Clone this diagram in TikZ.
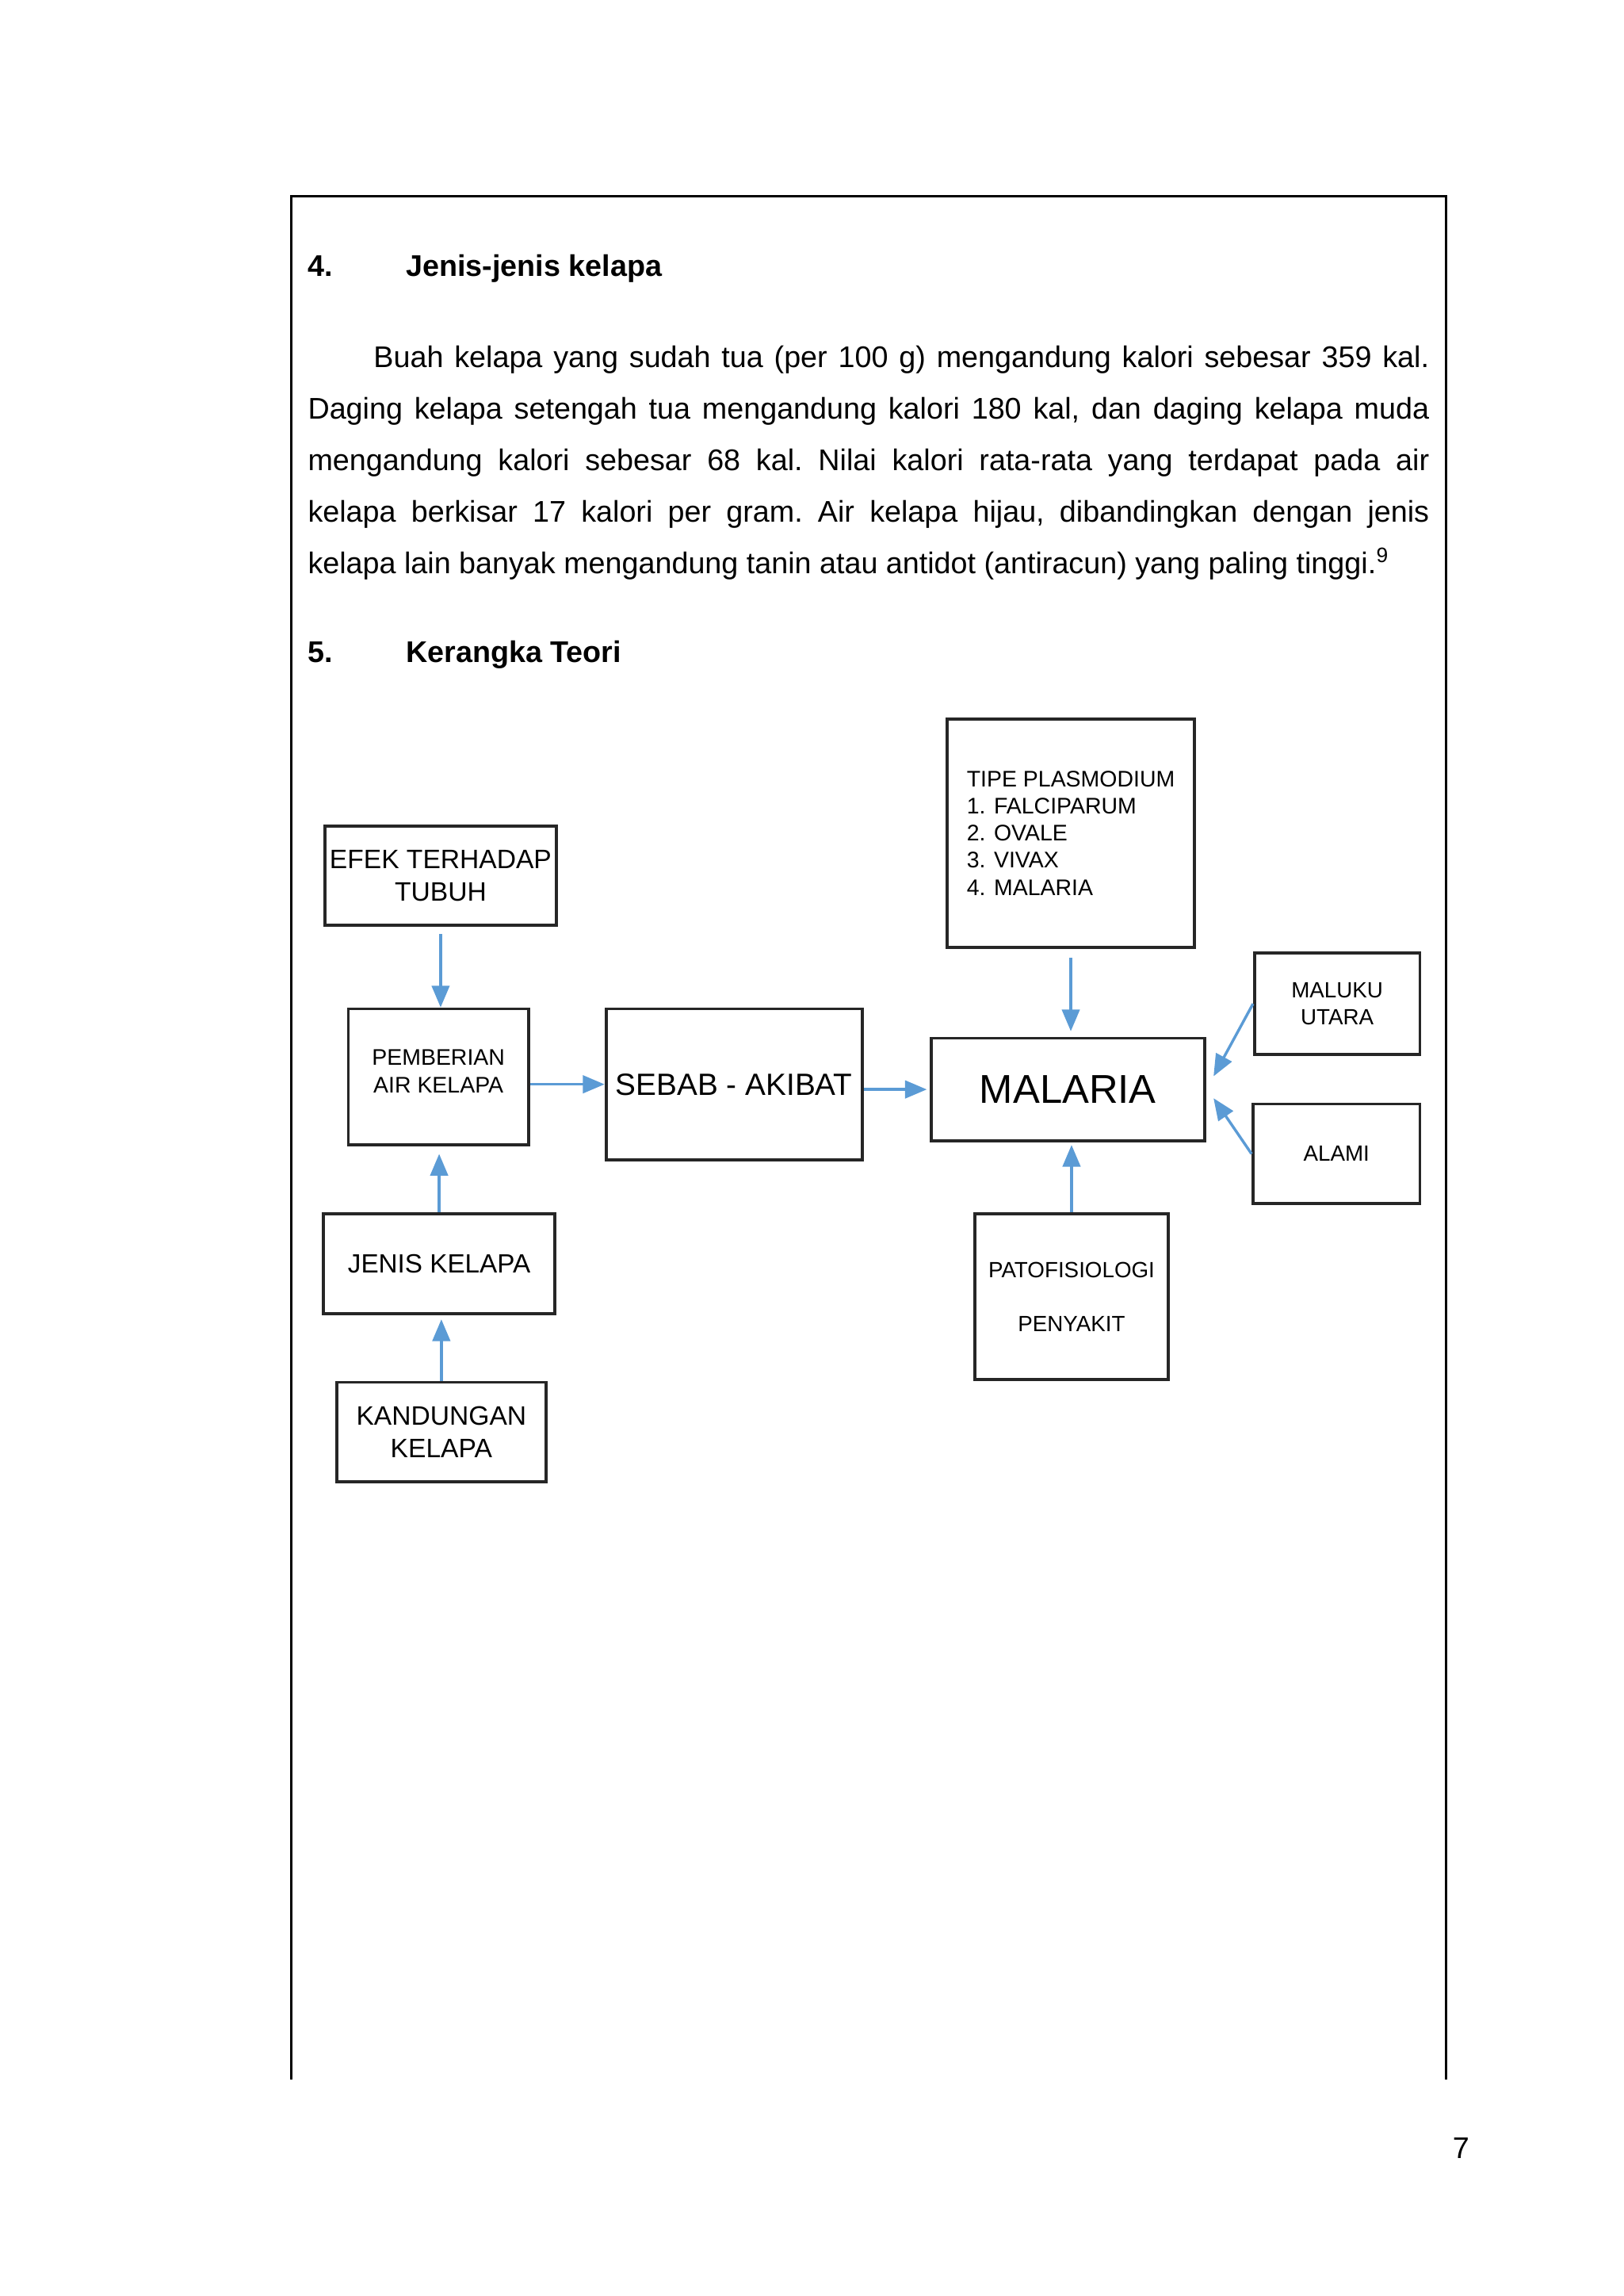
\documentclass[tikz,border=0pt]{standalone}
\usepackage{fontspec}
\setmainfont{Liberation Sans}
\usetikzlibrary{arrows.meta}
\definecolor{panah}{HTML}{5B9BD5}

\begin{document}
\begin{tikzpicture}[x=0.018936cm, y=-0.018936cm,
  kotak/.style={draw=black!85, line width=1.1pt, inner sep=0pt, align=center},
  panahbiru/.style={draw=panah, line width=1pt, -{Triangle[length=8pt, width=6.5pt]}}]
  \useasboundingbox (0,0) rectangle (1109,1568);

  % bingkai halaman
  \draw[line width=0.8pt] (199,1420) -- (199,134) -- (988,134) -- (988,1420);

  % judul 4 dan paragraf
  \node[anchor=base west, inner sep=0pt, font=\fontsize{11}{19}\selectfont\bfseries] (no4) at (210,188.5) {4.};
  \node[anchor=base west, inner sep=0pt, font=\fontsize{11}{19}\selectfont\bfseries] (judul4) at (277,188.5) {Jenis-jenis kelapa};
  \node[anchor=base west, inner sep=0pt, text width=14.505cm, align=justify,
        font=\fontsize{11}{19}\selectfont] (isi) at (210,250.7)
    {\frenchspacing\hyphenpenalty=10000\relax\exhyphenpenalty=10000\relax
     \hspace*{0.85cm}Buah kelapa yang sudah tua (per 100 g) mengandung kalori sebesar 359 kal.\linebreak
     Daging kelapa setengah tua mengandung kalori 180 kal, dan daging kelapa muda\linebreak
     mengandung kalori sebesar 68 kal. Nilai kalori rata-rata yang terdapat pada air\linebreak
     kelapa berkisar 17 kalori per gram. Air kelapa hijau, dibandingkan dengan jenis\linebreak
     kelapa lain banyak mengandung tanin atau antidot (antiracun) yang paling tinggi.\textsuperscript{9}};

  % judul 5
  \node[anchor=base west, inner sep=0pt, font=\fontsize{11}{19}\selectfont\bfseries] (no5) at (210,452.5) {5.};
  \node[anchor=base west, inner sep=0pt, font=\fontsize{11}{19}\selectfont\bfseries] (judul5) at (277,452.5) {Kerangka Teori};

  % kotak sisi kiri
  \node[kotak, minimum width=2.992cm, minimum height=1.288cm, font=\fontsize{9.8}{11.8}\selectfont] (efek) at (301,598) {EFEK TERHADAP\\TUBUH};
  \node[kotak, minimum width=2.330cm, minimum height=1.761cm, font=\fontsize{8.3}{10.2}\selectfont] (pemb) at (299.5,735.5) {PEMBERIAN\\AIR KELAPA\\[-6pt]\mbox{}};
  \node[kotak, minimum width=2.992cm, minimum height=1.288cm, font=\fontsize{9.7}{11.8}\selectfont] (jenis) at (300,863) {JENIS KELAPA};
  \node[kotak, minimum width=2.708cm, minimum height=1.288cm, font=\fontsize{9.8}{11.8}\selectfont] (kand) at (301.5,978) {KANDUNGAN\\KELAPA};
  \node[kotak, minimum width=3.314cm, minimum height=1.951cm, font=\fontsize{11.3}{13}\selectfont] (sebab) at (501.5,740.5) {SEBAB - AKIBAT};

  % kotak sisi kanan
  \node[kotak, minimum width=3.541cm, minimum height=1.326cm, font=\fontsize{14.8}{16}\selectfont] (malaria) at (729.5,744) {MALARIA};
  \node[kotak, minimum width=3.2cm, minimum height=2.954cm, align=left, font=\fontsize{8.3}{9.95}\selectfont] (tipe) at (731.5,569)
    {TIPE PLASMODIUM\\1. FALCIPARUM\\2. OVALE\\3. VIVAX\\4. MALARIA};
  \node[kotak, minimum width=2.140cm, minimum height=1.307cm, font=\fontsize{8.1}{9.7}\selectfont] (maluku) at (913.5,685.5) {MALUKU\\UTARA};
  \node[kotak, minimum width=2.159cm, minimum height=1.288cm, font=\fontsize{8.1}{9.7}\selectfont] (alami) at (913,788) {ALAMI};
  \node[kotak, minimum width=2.5cm, minimum height=2.140cm, font=\fontsize{8.1}{19.9}\selectfont] (pato) at (732,885.5) {PATOFISIOLOGI\\PENYAKIT};

  % panah
  \draw[panahbiru, shorten <=2.7pt] (efek.south) -- (efek.south |- pemb.north);
  \draw[panahbiru, shorten >=2.7pt] (jenis.north) -- (jenis.north |- pemb.south);
  \draw[panahbiru, shorten >=1.6pt] (kand.north) -- (kand.north |- jenis.south);
  \draw[panahbiru] (pemb.east |- sebab.west) -- (sebab.west);
  \draw[panahbiru, shorten >=1pt] (sebab.east |- malaria.west) -- (malaria.west);
  \draw[panahbiru, shorten <=3.2pt, shorten >=2pt] (tipe.south) -- (tipe.south |- malaria.north);
  \draw[panahbiru, shorten >=1pt] (pato.north) -- (pato.north |- malaria.south);
  \draw[panahbiru] (maluku.west) -- ([shift={(5,-9)}]malaria.east);
  \draw[panahbiru] (alami.west) -- ([shift={(5,6)}]malaria.east);

  % nomor halaman
  \node[anchor=base, inner sep=0pt, font=\fontsize{11}{13}\selectfont] (hal) at (998,1474) {7};
\end{tikzpicture}
\end{document}
